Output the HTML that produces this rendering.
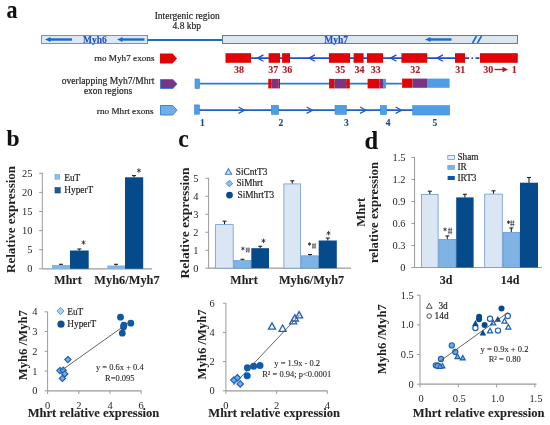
<!DOCTYPE html>
<html><head><meta charset="utf-8"><style>
html,body{margin:0;padding:0;background:#fff;}
svg{display:block;font-family:"Liberation Serif", serif;will-change:transform;}
</style></head><body>
<svg width="550" height="425" viewBox="0 0 550 425">
<rect width="550" height="425" fill="#fff"/>
<text x="6.4" y="18.2" font-size="25" text-anchor="start" font-weight="bold" fill="#111" stroke="#111" stroke-width="0.1" textLength="11" lengthAdjust="spacingAndGlyphs">a</text>
<text x="187.2" y="19" font-size="9.5" text-anchor="middle" font-weight="normal" fill="#231f20" stroke="#231f20" stroke-width="0.2" >Intergenic region</text>
<text x="186.8" y="28.6" font-size="9.5" text-anchor="middle" font-weight="normal" fill="#231f20" stroke="#231f20" stroke-width="0.2" >4.8 kbp</text>
<rect x="41.5" y="35.5" width="106.00" height="8.00" fill="#dce8f5" stroke="#5b9bd5" stroke-width="1" />
<line x1="49.5" y1="39.5" x2="72" y2="39.5" stroke="#1f6ac9" stroke-width="2.4" />
<polygon points="45,39.5 50.5,37.0 50.5,42.0" fill="#1f6ac9"/>
<line x1="121.5" y1="39.5" x2="144.5" y2="39.5" stroke="#1f6ac9" stroke-width="2.4" />
<polygon points="117,39.5 122.5,37.0 122.5,42.0" fill="#1f6ac9"/>
<text x="94.8" y="42.6" font-size="9.5" text-anchor="middle" font-weight="bold" fill="#1d4fbf" stroke="#1d4fbf" stroke-width="0.1" >Myh6</text>
<line x1="147.5" y1="39.9" x2="222.5" y2="39.9" stroke="#1f6ac9" stroke-width="2" />
<rect x="222.5" y="35.5" width="295.00" height="8.00" fill="#dce6f1" stroke="#5f7f9c" stroke-width="1" />
<text x="336.2" y="42.6" font-size="9.5" text-anchor="middle" font-weight="bold" fill="#1d4fbf" stroke="#1d4fbf" stroke-width="0.1" >Myh7</text>
<line x1="429.5" y1="39.5" x2="451.5" y2="39.5" stroke="#1f6ac9" stroke-width="2.4" />
<polygon points="425,39.5 430.5,37.0 430.5,42.0" fill="#1f6ac9"/>
<line x1="472.5" y1="43" x2="476.5" y2="36" stroke="#1f6ac9" stroke-width="1.6" />
<line x1="477.5" y1="43" x2="481.5" y2="36" stroke="#1f6ac9" stroke-width="1.6" />
<text x="154.5" y="60.7" font-size="9.2" text-anchor="end" font-weight="normal" fill="#231f20" stroke="#231f20" stroke-width="0.2" >rno Myh7 exons</text>
<text x="154.3" y="83.8" font-size="9.55" text-anchor="end" font-weight="normal" fill="#231f20" stroke="#231f20" stroke-width="0.2" >overlapping Myh7/Mhrt</text>
<text x="108" y="93.7" font-size="9.4" text-anchor="middle" font-weight="normal" fill="#231f20" stroke="#231f20" stroke-width="0.2" >exon regions</text>
<text x="153.5" y="113.5" font-size="9.2" text-anchor="end" font-weight="normal" fill="#231f20" stroke="#231f20" stroke-width="0.2" >rno Mhrt exons</text>
<polygon points="160,53.5 172.5,53.5 177,58.5 172.5,63.5 160,63.5" fill="#e00404" stroke="none" stroke-width="0"/>
<polygon points="160.5,79.5 172.95,79.5 177,84.0 172.95,88.5 160.5,88.5" fill="#793482" stroke="#3d7fd6" stroke-width="1"/>
<polygon points="160.5,105.5 172.725,105.5 177,110.25 172.725,115 160.5,115" fill="#72aee6" stroke="#3d85d6" stroke-width="1"/>
<line x1="251" y1="58.1" x2="455" y2="58.1" stroke="#1f4fc4" stroke-width="1.8" />
<line x1="465" y1="58.1" x2="480" y2="58.1" stroke="#1f4fc4" stroke-width="1.8" stroke-dasharray="4 2.5 1.5 2.5"/>
<rect x="225.5" y="53.2" width="25.50" height="9.60" fill="#e00404" stroke="none" stroke-width="0" />
<rect x="268.6" y="53.2" width="11.40" height="9.60" fill="#e00404" stroke="none" stroke-width="0" />
<rect x="282.1" y="53.2" width="7.90" height="9.60" fill="#e00404" stroke="none" stroke-width="0" />
<rect x="328.9" y="53.2" width="21.20" height="9.60" fill="#e00404" stroke="none" stroke-width="0" />
<rect x="353.6" y="53.2" width="10.00" height="9.60" fill="#e00404" stroke="none" stroke-width="0" />
<rect x="366.9" y="53.2" width="16.10" height="9.60" fill="#e00404" stroke="none" stroke-width="0" />
<rect x="401.4" y="53.2" width="25.80" height="9.60" fill="#e00404" stroke="none" stroke-width="0" />
<rect x="455" y="53.2" width="10.00" height="9.60" fill="#e00404" stroke="none" stroke-width="0" />
<rect x="480" y="53.2" width="37.80" height="9.60" fill="#e00404" stroke="none" stroke-width="0" />
<polyline points="263.5,54.9 257.5,58.1 263.5,61.300000000000004" fill="none" stroke="#1f4fc4" stroke-width="1.3"/>
<polyline points="315,54.9 309,58.1 315,61.300000000000004" fill="none" stroke="#1f4fc4" stroke-width="1.3"/>
<polyline points="396.5,54.9 390.5,58.1 396.5,61.300000000000004" fill="none" stroke="#1f4fc4" stroke-width="1.3"/>
<polyline points="443,54.9 437,58.1 443,61.300000000000004" fill="none" stroke="#1f4fc4" stroke-width="1.3"/>
<text x="239" y="72.8" font-size="10" text-anchor="middle" font-weight="bold" fill="#ad1a22" stroke="#ad1a22" stroke-width="0.1" >38</text>
<text x="273.2" y="72.8" font-size="10" text-anchor="middle" font-weight="bold" fill="#ad1a22" stroke="#ad1a22" stroke-width="0.1" >37</text>
<text x="287.2" y="72.8" font-size="10" text-anchor="middle" font-weight="bold" fill="#ad1a22" stroke="#ad1a22" stroke-width="0.1" >36</text>
<text x="340.3" y="72.8" font-size="10" text-anchor="middle" font-weight="bold" fill="#ad1a22" stroke="#ad1a22" stroke-width="0.1" >35</text>
<text x="359.5" y="72.8" font-size="10" text-anchor="middle" font-weight="bold" fill="#ad1a22" stroke="#ad1a22" stroke-width="0.1" >34</text>
<text x="375.8" y="72.8" font-size="10" text-anchor="middle" font-weight="bold" fill="#ad1a22" stroke="#ad1a22" stroke-width="0.1" >33</text>
<text x="415.3" y="72.8" font-size="10" text-anchor="middle" font-weight="bold" fill="#ad1a22" stroke="#ad1a22" stroke-width="0.1" >32</text>
<text x="460.2" y="72.8" font-size="10" text-anchor="middle" font-weight="bold" fill="#ad1a22" stroke="#ad1a22" stroke-width="0.1" >31</text>
<text x="488.3" y="72.8" font-size="10" text-anchor="middle" font-weight="bold" fill="#ad1a22" stroke="#ad1a22" stroke-width="0.1" >30</text>
<text x="514.3" y="72.8" font-size="10" text-anchor="middle" font-weight="bold" fill="#ad1a22" stroke="#ad1a22" stroke-width="0.1" >1</text>
<line x1="494.5" y1="69.5" x2="504" y2="69.5" stroke="#ad1a22" stroke-width="1.3" />
<polygon points="508,69.5 502.5,66.8 502.5,72.2" fill="#ad1a22"/>
<line x1="197" y1="83.6" x2="402" y2="83.6" stroke="#2a7ad8" stroke-width="1.8" />
<rect x="195" y="79" width="4.60" height="9.50" fill="#4d9ee6" stroke="#3f86d8" stroke-width="0.6" />
<rect x="268.3" y="78.9" width="3.20" height="9.50" fill="#e00404" stroke="none" stroke-width="0" />
<rect x="271.5" y="78.9" width="7.00" height="9.50" fill="#793482" stroke="none" stroke-width="0" />
<rect x="278.5" y="78.9" width="1.50" height="9.50" fill="#e00404" stroke="none" stroke-width="0" />
<rect x="329.1" y="78.9" width="5.40" height="9.50" fill="#e00404" stroke="none" stroke-width="0" />
<rect x="334.5" y="78.9" width="11.70" height="9.50" fill="#793482" stroke="none" stroke-width="0" />
<rect x="346.2" y="78.9" width="3.60" height="9.50" fill="#e00404" stroke="none" stroke-width="0" />
<rect x="367.6" y="78.9" width="12.00" height="9.50" fill="#e00404" stroke="none" stroke-width="0" />
<rect x="379.6" y="78.9" width="4.00" height="9.50" fill="#793482" stroke="none" stroke-width="0" />
<rect x="383.6" y="78.9" width="2.40" height="9.50" fill="#4d9ee6" stroke="none" stroke-width="0" />
<rect x="402.1" y="78.6" width="10.40" height="9.20" fill="#e00404" stroke="none" stroke-width="0" />
<rect x="412.5" y="78.6" width="14.50" height="9.20" fill="#793482" stroke="none" stroke-width="0" />
<rect x="427" y="78.6" width="22.60" height="9.20" fill="#4d9ee6" stroke="none" stroke-width="0" />
<line x1="199" y1="110.2" x2="413" y2="110.2" stroke="#1f5fc8" stroke-width="1.8" />
<rect x="194.5" y="104.9" width="5.00" height="9.30" fill="#4d9ee6" stroke="#3f86d8" stroke-width="0.6" />
<rect x="271.4" y="105.3" width="7.20" height="9.10" fill="#4d9ee6" stroke="#3f86d8" stroke-width="0.6" />
<rect x="335" y="105.3" width="11.40" height="9.10" fill="#4d9ee6" stroke="#3f86d8" stroke-width="0.6" />
<rect x="380.4" y="105.5" width="6.10" height="9.10" fill="#4d9ee6" stroke="#3f86d8" stroke-width="0.6" />
<rect x="412.7" y="105.6" width="36.90" height="9.40" fill="#4d9ee6" stroke="#3f86d8" stroke-width="0.6" />
<polyline points="238.5,107.0 244.5,110.2 238.5,113.4" fill="none" stroke="#1f5fc8" stroke-width="1.3"/>
<polyline points="306.6,107.0 312.6,110.2 306.6,113.4" fill="none" stroke="#1f5fc8" stroke-width="1.3"/>
<polyline points="360,107.0 366,110.2 360,113.4" fill="none" stroke="#1f5fc8" stroke-width="1.3"/>
<polyline points="395.6,107.0 401.6,110.2 395.6,113.4" fill="none" stroke="#1f5fc8" stroke-width="1.3"/>
<text x="202.5" y="125.5" font-size="9.6" text-anchor="middle" font-weight="bold" fill="#1a47a0" stroke="#1a47a0" stroke-width="0.1" >1</text>
<text x="281" y="125.5" font-size="9.6" text-anchor="middle" font-weight="bold" fill="#1a47a0" stroke="#1a47a0" stroke-width="0.1" >2</text>
<text x="346.3" y="125.5" font-size="9.6" text-anchor="middle" font-weight="bold" fill="#1a47a0" stroke="#1a47a0" stroke-width="0.1" >3</text>
<text x="388.2" y="125.5" font-size="9.6" text-anchor="middle" font-weight="bold" fill="#1a47a0" stroke="#1a47a0" stroke-width="0.1" >4</text>
<text x="435" y="125.5" font-size="9.6" text-anchor="middle" font-weight="bold" fill="#1a47a0" stroke="#1a47a0" stroke-width="0.1" >5</text>
<text x="6.5" y="145.8" font-size="23.5" text-anchor="start" font-weight="bold" fill="#111" stroke="#111" stroke-width="0.1" >b</text>
<line x1="42.3" y1="172.8" x2="42.3" y2="268.8" stroke="#9a9a9a" stroke-width="1" />
<line x1="42.3" y1="268.8" x2="152" y2="268.8" stroke="#9a9a9a" stroke-width="1.2" />
<line x1="39.099999999999994" y1="268.8" x2="42.3" y2="268.8" stroke="#9a9a9a" stroke-width="1" />
<text x="32.5" y="272.3" font-size="10.4" text-anchor="end" font-weight="normal" fill="#231f20"  >0</text>
<line x1="39.099999999999994" y1="249.70000000000002" x2="42.3" y2="249.70000000000002" stroke="#9a9a9a" stroke-width="1" />
<text x="32.5" y="253.20000000000002" font-size="10.4" text-anchor="end" font-weight="normal" fill="#231f20"  >5</text>
<line x1="39.099999999999994" y1="230.60000000000002" x2="42.3" y2="230.60000000000002" stroke="#9a9a9a" stroke-width="1" />
<text x="32.5" y="234.10000000000002" font-size="10.4" text-anchor="end" font-weight="normal" fill="#231f20"  >10</text>
<line x1="39.099999999999994" y1="211.5" x2="42.3" y2="211.5" stroke="#9a9a9a" stroke-width="1" />
<text x="32.5" y="215.0" font-size="10.4" text-anchor="end" font-weight="normal" fill="#231f20"  >15</text>
<line x1="39.099999999999994" y1="192.40000000000003" x2="42.3" y2="192.40000000000003" stroke="#9a9a9a" stroke-width="1" />
<text x="32.5" y="195.90000000000003" font-size="10.4" text-anchor="end" font-weight="normal" fill="#231f20"  >20</text>
<line x1="39.099999999999994" y1="173.3" x2="42.3" y2="173.3" stroke="#9a9a9a" stroke-width="1" />
<text x="32.5" y="176.8" font-size="10.4" text-anchor="end" font-weight="normal" fill="#231f20"  >25</text>
<rect x="52" y="265" width="18.00" height="3.80" fill="#7fb3e3" stroke="none" stroke-width="0" />
<rect x="70" y="250.5" width="18.70" height="18.30" fill="#054a8b" stroke="none" stroke-width="0" />
<rect x="107.3" y="265.5" width="17.70" height="3.30" fill="#7fb3e3" stroke="none" stroke-width="0" />
<rect x="125" y="177.3" width="18.20" height="91.50" fill="#054a8b" stroke="none" stroke-width="0" />
<line x1="61" y1="264.3" x2="61" y2="265" stroke="#222" stroke-width="1.1" />
<line x1="59.0" y1="264.3" x2="63.0" y2="264.3" stroke="#222" stroke-width="1.1" />
<line x1="79.3" y1="249" x2="79.3" y2="250.5" stroke="#222" stroke-width="1.1" />
<line x1="77.3" y1="249" x2="81.3" y2="249" stroke="#222" stroke-width="1.1" />
<line x1="116" y1="264.3" x2="116" y2="265.5" stroke="#222" stroke-width="1.1" />
<line x1="114.0" y1="264.3" x2="118.0" y2="264.3" stroke="#222" stroke-width="1.1" />
<line x1="134" y1="175.6" x2="134" y2="177.3" stroke="#222" stroke-width="1.1" />
<line x1="132.0" y1="175.6" x2="136.0" y2="175.6" stroke="#222" stroke-width="1.1" />
<line x1="83.5" y1="240.3" x2="83.5" y2="244.7" stroke="#333" stroke-width="0.85" />
<line x1="81.59" y1="241.4" x2="85.41" y2="243.6" stroke="#333" stroke-width="0.85" />
<line x1="85.41" y1="241.4" x2="81.59" y2="243.6" stroke="#333" stroke-width="0.85" />
<line x1="138.9" y1="168.3" x2="138.9" y2="172.7" stroke="#333" stroke-width="0.85" />
<line x1="136.99" y1="169.4" x2="140.81" y2="171.6" stroke="#333" stroke-width="0.85" />
<line x1="140.81" y1="169.4" x2="136.99" y2="171.6" stroke="#333" stroke-width="0.85" />
<rect x="55" y="174.5" width="4.60" height="4.70" fill="#8fc0ec" stroke="#5f9fdc" stroke-width="0.6" />
<text x="64.3" y="180.5" font-size="9.3" text-anchor="start" font-weight="normal" fill="#231f20" stroke="#231f20" stroke-width="0.2" >EuT</text>
<rect x="55" y="187.6" width="5.20" height="5.40" fill="#1b5aa0" stroke="#0c3f7a" stroke-width="0.6" />
<text x="64.3" y="193.4" font-size="9.3" text-anchor="start" font-weight="normal" fill="#231f20" stroke="#231f20" stroke-width="0.2" >HyperT</text>
<text x="15" y="219.4" font-size="13" text-anchor="middle" font-weight="bold" fill="#231f20" transform="rotate(-90 15 219.4)">Relative expression</text>
<text x="68" y="283.6" font-size="12" text-anchor="middle" font-weight="bold" fill="#231f20" stroke="#231f20" stroke-width="0.1" >Mhrt</text>
<text x="127" y="283.6" font-size="12.4" text-anchor="middle" font-weight="bold" fill="#231f20" stroke="#231f20" stroke-width="0.1" >Myh6/Myh7</text>
<line x1="47.6" y1="311.8" x2="47.6" y2="390.8" stroke="#9a9a9a" stroke-width="1" />
<line x1="47.6" y1="390.8" x2="141.4" y2="390.8" stroke="#9a9a9a" stroke-width="1.2" />
<line x1="44.6" y1="390.8" x2="47.6" y2="390.8" stroke="#9a9a9a" stroke-width="1" />
<text x="37.5" y="394.3" font-size="10.4" text-anchor="end" font-weight="normal" fill="#231f20"  >0</text>
<line x1="44.6" y1="371.05" x2="47.6" y2="371.05" stroke="#9a9a9a" stroke-width="1" />
<text x="37.5" y="374.55" font-size="10.4" text-anchor="end" font-weight="normal" fill="#231f20"  >1</text>
<line x1="44.6" y1="351.3" x2="47.6" y2="351.3" stroke="#9a9a9a" stroke-width="1" />
<text x="37.5" y="354.8" font-size="10.4" text-anchor="end" font-weight="normal" fill="#231f20"  >2</text>
<line x1="44.6" y1="331.55" x2="47.6" y2="331.55" stroke="#9a9a9a" stroke-width="1" />
<text x="37.5" y="335.05" font-size="10.4" text-anchor="end" font-weight="normal" fill="#231f20"  >3</text>
<line x1="44.6" y1="311.8" x2="47.6" y2="311.8" stroke="#9a9a9a" stroke-width="1" />
<text x="37.5" y="315.3" font-size="10.4" text-anchor="end" font-weight="normal" fill="#231f20"  >4</text>
<line x1="47.6" y1="390.8" x2="47.6" y2="394.0" stroke="#9a9a9a" stroke-width="1" />
<text x="47.6" y="409" font-size="10.4" text-anchor="middle" font-weight="normal" fill="#231f20"  >0</text>
<line x1="78.8" y1="390.8" x2="78.8" y2="394.0" stroke="#9a9a9a" stroke-width="1" />
<text x="78.8" y="409" font-size="10.4" text-anchor="middle" font-weight="normal" fill="#231f20"  >2</text>
<line x1="110.0" y1="390.8" x2="110.0" y2="394.0" stroke="#9a9a9a" stroke-width="1" />
<text x="110.0" y="409" font-size="10.4" text-anchor="middle" font-weight="normal" fill="#231f20"  >4</text>
<line x1="141.2" y1="390.8" x2="141.2" y2="394.0" stroke="#9a9a9a" stroke-width="1" />
<text x="141.2" y="409" font-size="10.4" text-anchor="middle" font-weight="normal" fill="#231f20"  >6</text>
<polygon points="59.9,367.5 63.0,370.6 59.9,373.70000000000005 56.8,370.6" fill="#74b0ea" stroke="#1f5fb4" stroke-width="1.2"/>
<polygon points="63.2,367.09999999999997 66.3,370.2 63.2,373.3 60.1,370.2" fill="#74b0ea" stroke="#1f5fb4" stroke-width="1.2"/>
<polygon points="64.8,370.79999999999995 67.89999999999999,373.9 64.8,377.0 61.699999999999996,373.9" fill="#74b0ea" stroke="#1f5fb4" stroke-width="1.2"/>
<polygon points="62.4,375.29999999999995 65.5,378.4 62.4,381.5 59.3,378.4" fill="#74b0ea" stroke="#1f5fb4" stroke-width="1.2"/>
<polygon points="67.9,356.5 71.0,359.6 67.9,362.70000000000005 64.80000000000001,359.6" fill="#74b0ea" stroke="#1f5fb4" stroke-width="1.2"/>
<circle cx="120.5" cy="317.2" r="3.4" fill="#0b5aa8" stroke="none" stroke-width="0"/>
<circle cx="130.8" cy="323.2" r="3.4" fill="#0b5aa8" stroke="none" stroke-width="0"/>
<circle cx="123.9" cy="325.2" r="3.4" fill="#0b5aa8" stroke="none" stroke-width="0"/>
<circle cx="123.5" cy="327.1" r="3.4" fill="#0b5aa8" stroke="none" stroke-width="0"/>
<circle cx="122.3" cy="333.2" r="3.4" fill="#0b5aa8" stroke="none" stroke-width="0"/>
<line x1="62" y1="370" x2="131" y2="321" stroke="#555" stroke-width="0.9" />
<polygon points="60.5,307.4 64.1,311 60.5,314.6 56.9,311" fill="#a8d0f2" stroke="#5b9bd5" stroke-width="1"/>
<text x="67.3" y="314.5" font-size="9.3" text-anchor="start" font-weight="normal" fill="#231f20" stroke="#231f20" stroke-width="0.2" >EuT</text>
<circle cx="61" cy="324.2" r="3.6" fill="#0d4f98" stroke="none" stroke-width="0"/>
<text x="67.3" y="326.8" font-size="9.3" text-anchor="start" font-weight="normal" fill="#231f20" stroke="#231f20" stroke-width="0.2" >HyperT</text>
<text x="119.8" y="370" font-size="8.5" text-anchor="middle" font-weight="normal" fill="#231f20" stroke="#231f20" stroke-width="0.1" >y = 0.6x + 0.4</text>
<text x="119.8" y="381" font-size="8.5" text-anchor="middle" font-weight="normal" fill="#231f20" stroke="#231f20" stroke-width="0.1" >R=0.095</text>
<text x="27.4" y="345.2" font-size="12.7" text-anchor="middle" font-weight="bold" fill="#231f20" transform="rotate(-90 27.4 345.2)">Myh6 /Myh7</text>
<text x="93.5" y="417.3" font-size="12.6" text-anchor="middle" font-weight="bold" fill="#231f20" stroke="#231f20" stroke-width="0.1" >Mhrt relative expression</text>
<text x="178.2" y="146.7" font-size="25.5" text-anchor="start" font-weight="bold" fill="#111" stroke="#111" stroke-width="0.1" textLength="10.5" lengthAdjust="spacingAndGlyphs">c</text>
<line x1="208.6" y1="177.8" x2="208.6" y2="268.2" stroke="#9a9a9a" stroke-width="1" />
<line x1="208.6" y1="268.2" x2="351" y2="268.2" stroke="#9a9a9a" stroke-width="1.2" />
<line x1="205.4" y1="268.2" x2="208.6" y2="268.2" stroke="#9a9a9a" stroke-width="1" />
<text x="198.5" y="271.7" font-size="10.4" text-anchor="end" font-weight="normal" fill="#231f20"  >0</text>
<line x1="205.4" y1="250.22" x2="208.6" y2="250.22" stroke="#9a9a9a" stroke-width="1" />
<text x="198.5" y="253.72" font-size="10.4" text-anchor="end" font-weight="normal" fill="#231f20"  >1</text>
<line x1="205.4" y1="232.23999999999998" x2="208.6" y2="232.23999999999998" stroke="#9a9a9a" stroke-width="1" />
<text x="198.5" y="235.73999999999998" font-size="10.4" text-anchor="end" font-weight="normal" fill="#231f20"  >2</text>
<line x1="205.4" y1="214.26" x2="208.6" y2="214.26" stroke="#9a9a9a" stroke-width="1" />
<text x="198.5" y="217.76" font-size="10.4" text-anchor="end" font-weight="normal" fill="#231f20"  >3</text>
<line x1="205.4" y1="196.27999999999997" x2="208.6" y2="196.27999999999997" stroke="#9a9a9a" stroke-width="1" />
<text x="198.5" y="199.77999999999997" font-size="10.4" text-anchor="end" font-weight="normal" fill="#231f20"  >4</text>
<line x1="205.4" y1="178.29999999999998" x2="208.6" y2="178.29999999999998" stroke="#9a9a9a" stroke-width="1" />
<text x="198.5" y="181.79999999999998" font-size="10.4" text-anchor="end" font-weight="normal" fill="#231f20"  >5</text>
<rect x="215.6" y="224.6" width="17.60" height="43.60" fill="#dae6f3" stroke="#6f9ccc" stroke-width="0.8" />
<rect x="233.9" y="260.5" width="17.10" height="7.70" fill="#7fb3e3" stroke="#5a8fcc" stroke-width="0.6" />
<rect x="251.3" y="248.2" width="17.70" height="20.00" fill="#054a8b" stroke="none" stroke-width="0" />
<rect x="283.9" y="183.9" width="16.70" height="84.30" fill="#dae6f3" stroke="#6f9ccc" stroke-width="0.8" />
<rect x="301.3" y="255.8" width="17.10" height="12.40" fill="#7fb3e3" stroke="#5a8fcc" stroke-width="0.6" />
<rect x="318.7" y="240.5" width="18.10" height="27.70" fill="#054a8b" stroke="none" stroke-width="0" />
<line x1="224.5" y1="221.2" x2="224.5" y2="224.2" stroke="#222" stroke-width="1.1" />
<line x1="222.5" y1="221.2" x2="226.5" y2="221.2" stroke="#222" stroke-width="1.1" />
<line x1="242.5" y1="259.3" x2="242.5" y2="260.2" stroke="#222" stroke-width="1.1" />
<line x1="240.5" y1="259.3" x2="244.5" y2="259.3" stroke="#222" stroke-width="1.1" />
<line x1="260.2" y1="246.3" x2="260.2" y2="248.2" stroke="#222" stroke-width="1.1" />
<line x1="258.2" y1="246.3" x2="262.2" y2="246.3" stroke="#222" stroke-width="1.1" />
<line x1="292.3" y1="180.8" x2="292.3" y2="183.5" stroke="#222" stroke-width="1.1" />
<line x1="290.3" y1="180.8" x2="294.3" y2="180.8" stroke="#222" stroke-width="1.1" />
<line x1="310" y1="254.5" x2="310" y2="255.5" stroke="#222" stroke-width="1.1" />
<line x1="308.0" y1="254.5" x2="312.0" y2="254.5" stroke="#222" stroke-width="1.1" />
<line x1="327.8" y1="238" x2="327.8" y2="240.5" stroke="#222" stroke-width="1.1" />
<line x1="325.8" y1="238" x2="329.8" y2="238" stroke="#222" stroke-width="1.1" />
<line x1="242.9" y1="246.8" x2="242.9" y2="250.4" stroke="#333" stroke-width="0.85" />
<line x1="241.34" y1="247.7" x2="244.46" y2="249.5" stroke="#333" stroke-width="0.85" />
<line x1="244.46" y1="247.7" x2="241.34" y2="249.5" stroke="#333" stroke-width="0.85" />
<line x1="246.9" y1="247.4" x2="246.60000000000002" y2="252.7" stroke="#444" stroke-width="0.7" />
<line x1="249.0" y1="247.4" x2="248.70000000000002" y2="252.7" stroke="#444" stroke-width="0.7" />
<line x1="245.70000000000002" y1="248.99" x2="249.9" y2="248.99" stroke="#444" stroke-width="0.8" />
<line x1="245.70000000000002" y1="251.004" x2="249.9" y2="251.004" stroke="#444" stroke-width="0.8" />
<line x1="263.5" y1="238.6" x2="263.5" y2="243.0" stroke="#333" stroke-width="0.85" />
<line x1="261.59" y1="239.7" x2="265.41" y2="241.9" stroke="#333" stroke-width="0.85" />
<line x1="265.41" y1="239.7" x2="261.59" y2="241.9" stroke="#333" stroke-width="0.85" />
<line x1="309.5" y1="242.2" x2="309.5" y2="245.8" stroke="#333" stroke-width="0.85" />
<line x1="307.94" y1="243.1" x2="311.06" y2="244.9" stroke="#333" stroke-width="0.85" />
<line x1="311.06" y1="243.1" x2="307.94" y2="244.9" stroke="#333" stroke-width="0.85" />
<line x1="313.1" y1="243.1" x2="312.8" y2="248.9" stroke="#444" stroke-width="0.7" />
<line x1="315.2" y1="243.1" x2="314.9" y2="248.9" stroke="#444" stroke-width="0.7" />
<line x1="311.9" y1="244.84" x2="316.1" y2="244.84" stroke="#444" stroke-width="0.8" />
<line x1="311.9" y1="247.044" x2="316.1" y2="247.044" stroke="#444" stroke-width="0.8" />
<line x1="328.5" y1="231.0" x2="328.5" y2="235.4" stroke="#333" stroke-width="0.85" />
<line x1="326.59" y1="232.1" x2="330.41" y2="234.3" stroke="#333" stroke-width="0.85" />
<line x1="330.41" y1="232.1" x2="326.59" y2="234.3" stroke="#333" stroke-width="0.85" />
<polygon points="228.5,168.7 231.635,174.31 225.365,174.31" fill="#d3e5f6" stroke="#3f7fc5" stroke-width="1.1" stroke-linejoin="miter"/>
<text x="235.8" y="174.8" font-size="9.3" text-anchor="start" font-weight="normal" fill="#231f20" stroke="#231f20" stroke-width="0.2" >SiCntT3</text>
<polygon points="229.4,180.2 232.70000000000002,183.5 229.4,186.8 226.1,183.5" fill="#8cc0ee" stroke="#4f8ccc" stroke-width="1"/>
<text x="236.4" y="186.4" font-size="9.3" text-anchor="start" font-weight="normal" fill="#231f20" stroke="#231f20" stroke-width="0.2" >SiMhrt</text>
<circle cx="229.5" cy="195.1" r="3.4" fill="#0c4a8f" stroke="none" stroke-width="0"/>
<text x="237.6" y="198" font-size="9.3" text-anchor="start" font-weight="normal" fill="#231f20" stroke="#231f20" stroke-width="0.2" >SiMhrtT3</text>
<text x="188.5" y="223" font-size="13.5" text-anchor="middle" font-weight="bold" fill="#231f20" transform="rotate(-90 188.5 223)">Relative expression</text>
<text x="244" y="284" font-size="12" text-anchor="middle" font-weight="bold" fill="#231f20" stroke="#231f20" stroke-width="0.1" >Mhrt</text>
<text x="311.6" y="284" font-size="12.4" text-anchor="middle" font-weight="bold" fill="#231f20" stroke="#231f20" stroke-width="0.1" >Myh6/Myh7</text>
<line x1="225.9" y1="303" x2="225.9" y2="390.8" stroke="#9a9a9a" stroke-width="1" />
<line x1="225.9" y1="390.8" x2="327.3" y2="390.8" stroke="#9a9a9a" stroke-width="1.2" />
<line x1="222.9" y1="390.8" x2="225.9" y2="390.8" stroke="#9a9a9a" stroke-width="1" />
<text x="214.8" y="394.3" font-size="10.4" text-anchor="end" font-weight="normal" fill="#231f20"  >0</text>
<line x1="222.9" y1="361.6" x2="225.9" y2="361.6" stroke="#9a9a9a" stroke-width="1" />
<text x="214.8" y="365.1" font-size="10.4" text-anchor="end" font-weight="normal" fill="#231f20"  >2</text>
<line x1="222.9" y1="332.40000000000003" x2="225.9" y2="332.40000000000003" stroke="#9a9a9a" stroke-width="1" />
<text x="214.8" y="335.90000000000003" font-size="10.4" text-anchor="end" font-weight="normal" fill="#231f20"  >4</text>
<line x1="222.9" y1="303.20000000000005" x2="225.9" y2="303.20000000000005" stroke="#9a9a9a" stroke-width="1" />
<text x="214.8" y="306.70000000000005" font-size="10.4" text-anchor="end" font-weight="normal" fill="#231f20"  >6</text>
<line x1="225.9" y1="390.8" x2="225.9" y2="393.8" stroke="#9a9a9a" stroke-width="1" />
<text x="225.9" y="409" font-size="10.4" text-anchor="middle" font-weight="normal" fill="#231f20"  >0</text>
<line x1="276.6" y1="390.8" x2="276.6" y2="393.8" stroke="#9a9a9a" stroke-width="1" />
<text x="276.6" y="409" font-size="10.4" text-anchor="middle" font-weight="normal" fill="#231f20"  >2</text>
<line x1="327.3" y1="390.8" x2="327.3" y2="393.8" stroke="#9a9a9a" stroke-width="1" />
<text x="327.3" y="409" font-size="10.4" text-anchor="middle" font-weight="normal" fill="#231f20"  >4</text>
<polygon points="272,322.90000000000003 275.515,329.19 268.485,329.19" fill="#ffffff" stroke="#1f5fb4" stroke-width="1.3" stroke-linejoin="miter"/>
<polygon points="282.6,325.0 286.115,331.28999999999996 279.08500000000004,331.28999999999996" fill="#ffffff" stroke="#1f5fb4" stroke-width="1.3" stroke-linejoin="miter"/>
<polygon points="293.2,317.5 296.715,323.78999999999996 289.685,323.78999999999996" fill="#ffffff" stroke="#1f5fb4" stroke-width="1.3" stroke-linejoin="miter"/>
<polygon points="294.9,314.7 298.41499999999996,320.98999999999995 291.385,320.98999999999995" fill="#ffffff" stroke="#1f5fb4" stroke-width="1.3" stroke-linejoin="miter"/>
<polygon points="299.1,311.6 302.615,317.89 295.58500000000004,317.89" fill="#ffffff" stroke="#1f5fb4" stroke-width="1.3" stroke-linejoin="miter"/>
<polygon points="233.9,376.90000000000003 237.1,380.1 233.9,383.3 230.70000000000002,380.1" fill="#6ab0f0" stroke="#1a5cb8" stroke-width="1.2"/>
<polygon points="237.4,374.6 240.6,377.8 237.4,381.0 234.20000000000002,377.8" fill="#6ab0f0" stroke="#1a5cb8" stroke-width="1.2"/>
<polygon points="240.2,380.7 243.39999999999998,383.9 240.2,387.09999999999997 237.0,383.9" fill="#6ab0f0" stroke="#1a5cb8" stroke-width="1.2"/>
<circle cx="247.4" cy="367.8" r="3.5" fill="#0b5cae" stroke="none" stroke-width="0"/>
<circle cx="253.6" cy="366.3" r="3.5" fill="#0b5cae" stroke="none" stroke-width="0"/>
<circle cx="260" cy="365.5" r="3.5" fill="#0b5cae" stroke="none" stroke-width="0"/>
<circle cx="247.2" cy="375.7" r="3.5" fill="#0b5cae" stroke="none" stroke-width="0"/>
<line x1="233.2" y1="385.3" x2="299.5" y2="315" stroke="#555" stroke-width="0.9" />
<text x="297.2" y="365.5" font-size="8.5" text-anchor="middle" font-weight="normal" fill="#231f20" stroke="#231f20" stroke-width="0.1" >y = 1.9x - 0.2</text>
<text x="296.7" y="377" font-size="8.5" text-anchor="middle" font-weight="normal" fill="#231f20" stroke="#231f20" stroke-width="0.1" >R² = 0.94; p&lt;0.0001</text>
<text x="205.9" y="344.4" font-size="12.7" text-anchor="middle" font-weight="bold" fill="#231f20" transform="rotate(-90 205.9 344.4)">Myh6 /Myh7</text>
<text x="274.2" y="417" font-size="12.6" text-anchor="middle" font-weight="bold" fill="#231f20" stroke="#231f20" stroke-width="0.1" >Mhrt relative expression</text>
<text x="364.6" y="148.9" font-size="24.5" text-anchor="start" font-weight="bold" fill="#111" stroke="#111" stroke-width="0.1" >d</text>
<line x1="414.6" y1="156.9" x2="414.6" y2="267.5" stroke="#9a9a9a" stroke-width="1" />
<line x1="414.6" y1="267.5" x2="542" y2="267.5" stroke="#9a9a9a" stroke-width="1.2" />
<line x1="411.40000000000003" y1="267.5" x2="414.6" y2="267.5" stroke="#9a9a9a" stroke-width="1" />
<text x="405.5" y="271.0" font-size="10.4" text-anchor="end" font-weight="normal" fill="#231f20"  >0</text>
<line x1="411.40000000000003" y1="245.48" x2="414.6" y2="245.48" stroke="#9a9a9a" stroke-width="1" />
<text x="405.5" y="248.98" font-size="10.4" text-anchor="end" font-weight="normal" fill="#231f20"  >0.3</text>
<line x1="411.40000000000003" y1="223.46" x2="414.6" y2="223.46" stroke="#9a9a9a" stroke-width="1" />
<text x="405.5" y="226.96" font-size="10.4" text-anchor="end" font-weight="normal" fill="#231f20"  >0.6</text>
<line x1="411.40000000000003" y1="201.44" x2="414.6" y2="201.44" stroke="#9a9a9a" stroke-width="1" />
<text x="405.5" y="204.94" font-size="10.4" text-anchor="end" font-weight="normal" fill="#231f20"  >0.9</text>
<line x1="411.40000000000003" y1="179.42000000000002" x2="414.6" y2="179.42000000000002" stroke="#9a9a9a" stroke-width="1" />
<text x="405.5" y="182.92000000000002" font-size="10.4" text-anchor="end" font-weight="normal" fill="#231f20"  >1.2</text>
<line x1="411.40000000000003" y1="157.39999999999998" x2="414.6" y2="157.39999999999998" stroke="#9a9a9a" stroke-width="1" />
<text x="405.5" y="160.89999999999998" font-size="10.4" text-anchor="end" font-weight="normal" fill="#231f20"  >1.5</text>
<rect x="421.5" y="194.4" width="16.60" height="73.10" fill="#dae6f3" stroke="#6f9ccc" stroke-width="0.8" />
<rect x="438.8" y="239.3" width="17.10" height="28.20" fill="#7fb3e3" stroke="#5a8fcc" stroke-width="0.6" />
<rect x="456.2" y="197.4" width="17.40" height="70.10" fill="#054a8b" stroke="none" stroke-width="0" />
<rect x="484.7" y="194.1" width="17.60" height="73.40" fill="#dae6f3" stroke="#6f9ccc" stroke-width="0.8" />
<rect x="503.0" y="232.3" width="16.70" height="35.20" fill="#7fb3e3" stroke="#5a8fcc" stroke-width="0.6" />
<rect x="520" y="182.7" width="18.00" height="84.80" fill="#054a8b" stroke="none" stroke-width="0" />
<line x1="429.8" y1="191.2" x2="429.8" y2="194" stroke="#222" stroke-width="1.1" />
<line x1="427.8" y1="191.2" x2="431.8" y2="191.2" stroke="#222" stroke-width="1.1" />
<line x1="447.3" y1="236" x2="447.3" y2="239" stroke="#222" stroke-width="1.1" />
<line x1="445.3" y1="236" x2="449.3" y2="236" stroke="#222" stroke-width="1.1" />
<line x1="464.9" y1="194.3" x2="464.9" y2="197.4" stroke="#222" stroke-width="1.1" />
<line x1="462.9" y1="194.3" x2="466.9" y2="194.3" stroke="#222" stroke-width="1.1" />
<line x1="493.5" y1="190.8" x2="493.5" y2="193.7" stroke="#222" stroke-width="1.1" />
<line x1="491.5" y1="190.8" x2="495.5" y2="190.8" stroke="#222" stroke-width="1.1" />
<line x1="511.3" y1="228" x2="511.3" y2="232" stroke="#222" stroke-width="1.1" />
<line x1="509.3" y1="228" x2="513.3" y2="228" stroke="#222" stroke-width="1.1" />
<line x1="529" y1="177.5" x2="529" y2="182.7" stroke="#222" stroke-width="1.1" />
<line x1="527.0" y1="177.5" x2="531.0" y2="177.5" stroke="#222" stroke-width="1.1" />
<line x1="445.0" y1="227.6" x2="445.0" y2="231.2" stroke="#333" stroke-width="0.85" />
<line x1="443.44" y1="228.5" x2="446.56" y2="230.3" stroke="#333" stroke-width="0.85" />
<line x1="446.56" y1="228.5" x2="443.44" y2="230.3" stroke="#333" stroke-width="0.85" />
<line x1="449.20000000000005" y1="227.6" x2="448.90000000000003" y2="234.4" stroke="#444" stroke-width="0.7" />
<line x1="451.3" y1="227.6" x2="451.0" y2="234.4" stroke="#444" stroke-width="0.7" />
<line x1="448.0" y1="229.64" x2="452.20000000000005" y2="229.64" stroke="#444" stroke-width="0.8" />
<line x1="448.0" y1="232.224" x2="452.20000000000005" y2="232.224" stroke="#444" stroke-width="0.8" />
<line x1="508.5" y1="220.4" x2="508.5" y2="224.0" stroke="#333" stroke-width="0.85" />
<line x1="506.94" y1="221.3" x2="510.06" y2="223.1" stroke="#333" stroke-width="0.85" />
<line x1="510.06" y1="221.3" x2="506.94" y2="223.1" stroke="#333" stroke-width="0.85" />
<line x1="511.4" y1="220.3" x2="511.09999999999997" y2="226.5" stroke="#444" stroke-width="0.7" />
<line x1="513.5" y1="220.3" x2="513.1999999999999" y2="226.5" stroke="#444" stroke-width="0.7" />
<line x1="510.19999999999993" y1="222.16" x2="514.4" y2="222.16" stroke="#444" stroke-width="0.8" />
<line x1="510.19999999999993" y1="224.516" x2="514.4" y2="224.516" stroke="#444" stroke-width="0.8" />
<rect x="447.8" y="155.4" width="6.80" height="4.00" fill="#e6eef8" stroke="#5b9bd5" stroke-width="0.8" />
<text x="457.4" y="160" font-size="9.3" text-anchor="start" font-weight="normal" fill="#231f20" stroke="#231f20" stroke-width="0.2" >Sham</text>
<rect x="447.8" y="165.4" width="6.80" height="4.00" fill="#7ab3e6" stroke="#5b9bd5" stroke-width="0.6" />
<text x="457.4" y="170" font-size="9.3" text-anchor="start" font-weight="normal" fill="#231f20" stroke="#231f20" stroke-width="0.2" >IR</text>
<rect x="447.6" y="176" width="7.20" height="4.00" fill="#0d57a8" stroke="none" stroke-width="0" />
<text x="457.4" y="181" font-size="9.3" text-anchor="start" font-weight="normal" fill="#231f20" stroke="#231f20" stroke-width="0.2" >IRT3</text>
<text x="365.2" y="212.3" font-size="12.75" text-anchor="middle" font-weight="bold" fill="#231f20" transform="rotate(-90 365.2 212.3)">Mhrt</text>
<text x="377.6" y="212.5" font-size="12.75" text-anchor="middle" font-weight="bold" fill="#231f20" transform="rotate(-90 377.6 212.5)">relative expression</text>
<text x="446.2" y="283.6" font-size="12" text-anchor="middle" font-weight="bold" fill="#231f20" stroke="#231f20" stroke-width="0.1" >3d</text>
<text x="510" y="283.6" font-size="12" text-anchor="middle" font-weight="bold" fill="#231f20" stroke="#231f20" stroke-width="0.1" >14d</text>
<line x1="420" y1="295" x2="420" y2="384.2" stroke="#9a9a9a" stroke-width="1" />
<line x1="420" y1="384.2" x2="536.5" y2="384.2" stroke="#9a9a9a" stroke-width="1.2" />
<line x1="417" y1="384.2" x2="420" y2="384.2" stroke="#9a9a9a" stroke-width="1" />
<text x="413.8" y="387.7" font-size="10.4" text-anchor="end" font-weight="normal" fill="#231f20"  >0</text>
<line x1="420.0" y1="384.2" x2="420.0" y2="387.4" stroke="#9a9a9a" stroke-width="1" />
<text x="421.0" y="401.7" font-size="10.4" text-anchor="middle" font-weight="normal" fill="#231f20"  >0</text>
<line x1="417" y1="354.55" x2="420" y2="354.55" stroke="#9a9a9a" stroke-width="1" />
<text x="413.8" y="358.05" font-size="10.4" text-anchor="end" font-weight="normal" fill="#231f20"  >0.5</text>
<line x1="458.3" y1="384.2" x2="458.3" y2="387.4" stroke="#9a9a9a" stroke-width="1" />
<text x="459.3" y="401.7" font-size="10.4" text-anchor="middle" font-weight="normal" fill="#231f20"  >0.5</text>
<line x1="417" y1="324.9" x2="420" y2="324.9" stroke="#9a9a9a" stroke-width="1" />
<text x="413.8" y="328.4" font-size="10.4" text-anchor="end" font-weight="normal" fill="#231f20"  >1.0</text>
<line x1="496.6" y1="384.2" x2="496.6" y2="387.4" stroke="#9a9a9a" stroke-width="1" />
<text x="497.6" y="401.7" font-size="10.4" text-anchor="middle" font-weight="normal" fill="#231f20"  >1.0</text>
<line x1="417" y1="295.25" x2="420" y2="295.25" stroke="#9a9a9a" stroke-width="1" />
<text x="413.8" y="298.75" font-size="10.4" text-anchor="end" font-weight="normal" fill="#231f20"  >1.5</text>
<line x1="534.9" y1="384.2" x2="534.9" y2="387.4" stroke="#9a9a9a" stroke-width="1" />
<text x="535.9" y="401.7" font-size="10.4" text-anchor="middle" font-weight="normal" fill="#231f20"  >1.5</text>
<circle cx="451.8" cy="345.4" r="2.6" fill="#6aaae6" stroke="#1f5fb0" stroke-width="1.1"/>
<circle cx="455.3" cy="352" r="2.6" fill="#6aaae6" stroke="#1f5fb0" stroke-width="1.1"/>
<circle cx="441" cy="359" r="2.6" fill="#6aaae6" stroke="#1f5fb0" stroke-width="1.1"/>
<circle cx="435.8" cy="365.3" r="2.6" fill="#6aaae6" stroke="#1f5fb0" stroke-width="1.1"/>
<circle cx="437.7" cy="366" r="2.6" fill="#6aaae6" stroke="#1f5fb0" stroke-width="1.1"/>
<polygon points="457.5,354.0 460.065,358.59 454.935,358.59" fill="#6aaae6" stroke="#1f5fb0" stroke-width="1.1" stroke-linejoin="miter"/>
<polygon points="462.7,355.3 465.265,359.89 460.135,359.89" fill="#6aaae6" stroke="#1f5fb0" stroke-width="1.1" stroke-linejoin="miter"/>
<polygon points="442.4,363.3 444.965,367.89 439.835,367.89" fill="#6aaae6" stroke="#1f5fb0" stroke-width="1.1" stroke-linejoin="miter"/>
<polygon points="440,363.8 442.565,368.39 437.435,368.39" fill="#6aaae6" stroke="#1f5fb0" stroke-width="1.1" stroke-linejoin="miter"/>
<circle cx="490" cy="318.8" r="2.6" fill="#ffffff" stroke="#1f5fb0" stroke-width="1.2"/>
<circle cx="475.4" cy="328" r="2.6" fill="#ffffff" stroke="#1f5fb0" stroke-width="1.2"/>
<circle cx="498" cy="330.6" r="2.6" fill="#ffffff" stroke="#1f5fb0" stroke-width="1.2"/>
<circle cx="507.8" cy="316" r="2.6" fill="#ffffff" stroke="#1f5fb0" stroke-width="1.2"/>
<polygon points="493.2,320.3 495.765,324.89 490.635,324.89" fill="#ffffff" stroke="#1f5fb0" stroke-width="1.2" stroke-linejoin="miter"/>
<polygon points="504.5,318.5 507.065,323.09 501.935,323.09" fill="#ffffff" stroke="#1f5fb0" stroke-width="1.2" stroke-linejoin="miter"/>
<polygon points="508.3,324.6 510.865,329.19 505.735,329.19" fill="#ffffff" stroke="#1f5fb0" stroke-width="1.2" stroke-linejoin="miter"/>
<polygon points="490,328.3 492.565,332.89 487.435,332.89" fill="#ffffff" stroke="#1f5fb0" stroke-width="1.2" stroke-linejoin="miter"/>
<circle cx="501.5" cy="308.5" r="3.0" fill="#054a8b" stroke="none" stroke-width="0"/>
<circle cx="479.1" cy="316.8" r="3.0" fill="#054a8b" stroke="none" stroke-width="0"/>
<circle cx="479.1" cy="319.3" r="3.0" fill="#054a8b" stroke="none" stroke-width="0"/>
<circle cx="484.6" cy="325" r="3.0" fill="#054a8b" stroke="none" stroke-width="0"/>
<polygon points="475.4,320.1 478.63,325.88 472.16999999999996,325.88" fill="#054a8b" stroke="none" stroke-width="0" stroke-linejoin="miter"/>
<polygon points="497.8,315.90000000000003 501.03000000000003,321.68 494.57,321.68" fill="#054a8b" stroke="none" stroke-width="0" stroke-linejoin="miter"/>
<polygon points="482.9,329.6 486.13,335.38 479.66999999999996,335.38" fill="#054a8b" stroke="none" stroke-width="0" stroke-linejoin="miter"/>
<line x1="437.2" y1="363.2" x2="508.3" y2="312.2" stroke="#555" stroke-width="0.9" />
<polygon points="429.3,303.2 432.15000000000003,308.3 426.45,308.3" fill="#fff" stroke="#333" stroke-width="0.85" stroke-linejoin="miter"/>
<text x="438.4" y="308.5" font-size="9.3" text-anchor="start" font-weight="normal" fill="#231f20" stroke="#231f20" stroke-width="0.2" >3d</text>
<circle cx="429.2" cy="316.1" r="2.3" fill="#fff" stroke="#333" stroke-width="0.85"/>
<text x="434.6" y="318.6" font-size="9.3" text-anchor="start" font-weight="normal" fill="#231f20" stroke="#231f20" stroke-width="0.2" >14d</text>
<text x="504.5" y="352.2" font-size="8.5" text-anchor="middle" font-weight="normal" fill="#231f20" stroke="#231f20" stroke-width="0.1" >y = 0.9x + 0.2</text>
<text x="504.7" y="361.6" font-size="8.5" text-anchor="middle" font-weight="normal" fill="#231f20" stroke="#231f20" stroke-width="0.1" >R² = 0.80</text>
<text x="386.5" y="339.2" font-size="12.7" text-anchor="middle" font-weight="bold" fill="#231f20" transform="rotate(-90 386.5 339.2)">Myh6 /Myh7</text>
<text x="478.7" y="417" font-size="12.6" text-anchor="middle" font-weight="bold" fill="#231f20" stroke="#231f20" stroke-width="0.1" >Mhrt relative expression</text>
</svg></body></html>
